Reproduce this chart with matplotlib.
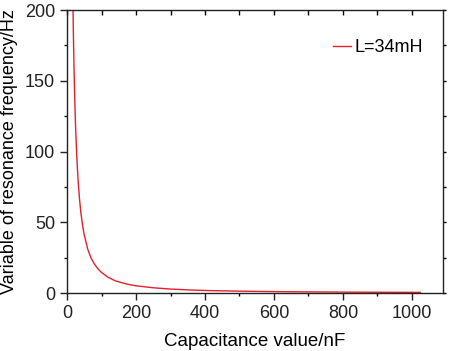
import matplotlib
matplotlib.use("Agg")
import matplotlib.pyplot as plt
from matplotlib.ticker import MultipleLocator

plt.rcParams['font.family'] = ['Liberation Sans', 'DejaVu Sans']

capacitance_nF = [16, 18, 20, 22, 25, 28, 32, 36, 40, 45, 50, 60, 70, 80, 90, 100,
                  120, 140, 160, 180, 200, 250, 300, 350, 400, 500, 600, 700, 800,
                  900, 1024]
freq_variation_Hz = [227, 190, 162, 140, 116, 98, 80, 67, 57, 48, 41, 31, 24.5, 20.3,
                     17, 14.5, 11, 8.6, 7.2, 6.0, 5.1, 3.7, 2.8, 2.2, 1.8, 1.3, 1.0,
                     0.8, 0.64, 0.54, 0.44]
series_label = "L=34mH"
x_label = "Capacitance value/nF"
y_label = "Variable of resonance frequency/Hz"

fig = plt.figure(figsize=(4.74, 3.51), dpi=100)
ax = fig.add_axes([0.1414, 0.1652, 0.7932, 0.8063])

ax.plot(capacitance_nF, freq_variation_Hz, color='#e3202c', lw=1.0, label=series_label)
ax.set_xlim(0, 1090)
ax.set_ylim(0, 200)

ax.xaxis.set_major_locator(MultipleLocator(200))
ax.xaxis.set_minor_locator(MultipleLocator(100))
ax.yaxis.set_major_locator(MultipleLocator(50))
ax.yaxis.set_minor_locator(MultipleLocator(25))
ax.tick_params(which='major', direction='out', length=5, width=1, labelsize=13, colors='#222222')
ax.tick_params(which='minor', direction='out', length=2.5, width=1)

# top ticks inward, right ticks outward (as in reference)
secx = ax.secondary_xaxis('top')
secx.xaxis.set_major_locator(MultipleLocator(100))
secx.tick_params(direction='in', length=3.5, width=1, labeltop=False)
secx.set_xticklabels([])
secx.spines['top'].set_visible(False)
secy = ax.secondary_yaxis('right')
secy.yaxis.set_major_locator(MultipleLocator(25))
secy.tick_params(direction='out', length=2.5, width=1, labelright=False)
secy.set_yticklabels([])
secy.spines['right'].set_visible(False)

for s in ax.spines.values():
    s.set_linewidth(1.0)
    s.set_color('#222222')

ax.set_xlabel(x_label, fontsize=13.5, labelpad=8)
ax.set_ylabel(y_label, fontsize=13, labelpad=5)

ax.legend(loc='upper right', frameon=False, fontsize=13, handlelength=1.0,
          handletextpad=0.2, bbox_to_anchor=(0.99, 0.955))

fig.savefig("out.png", dpi=100)
